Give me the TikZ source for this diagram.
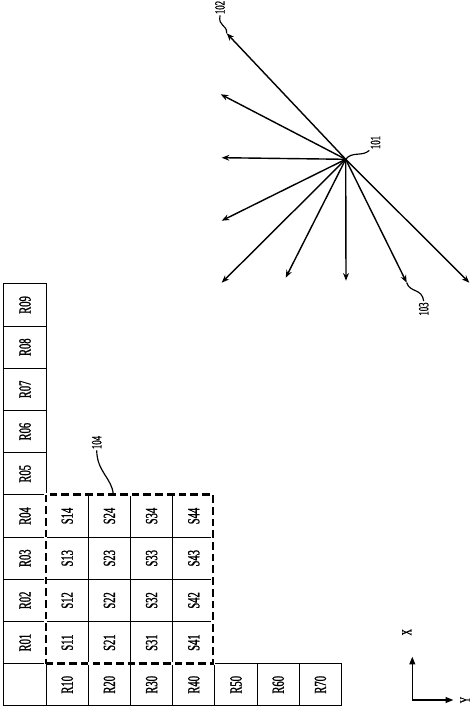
\documentclass[tikz,border=0pt]{standalone}
\usepackage{fontspec}
\usepackage{tikz}
\usetikzlibrary{arrows.meta}
\newfontfamily\figfont[FakeStretch=0.62, FakeBold=1.2]{Liberation Serif}

\begin{document}
\begin{tikzpicture}
  [x=0.03cm, y=-0.03cm, >={Stealth[length=6.5pt,width=5pt]},
   cell/.style={shape=rectangle, draw=black, line width=1pt, inner sep=0pt,
     minimum width=1.266cm, minimum height=1.266cm, rotate=90,
     font=\figfont\fontsize{14.5}{14.5}\selectfont},
   dashbox/.style={shape=rectangle, draw=black, dashed, line width=2pt,
     dash pattern=on 6.5pt off 3.5pt, inner sep=0pt,
     preaction={draw=white, solid, line width=2.8pt}},
   refnum/.style={rotate=90, inner sep=1pt, font=\figfont\fontsize{12}{12}\selectfont},
   ray/.style={->, line width=1.2pt},
   leader/.style={line width=1pt},
   axis/.style={-{Triangle[length=6.5pt,width=5pt]}, line width=0.9pt}]
  \useasboundingbox (0,0) rectangle (474,710);

  % first column of rows
  \node[cell] (R09) at (25, 305) {R09};
  \node[cell] (R08) at (25, 347.2) {R08};
  \node[cell] (R07) at (25, 389.4) {R07};
  \node[cell] (R06) at (25, 431.6) {R06};
  \node[cell] (R05) at (25, 473.8) {R05};
  \node[cell] (R04) at (25, 516) {R04};
  \node[cell] (R03) at (25, 558.2) {R03};
  \node[cell] (R02) at (25, 600.4) {R02};
  \node[cell] (R01) at (25, 642.6) {R01};
  \node[cell] (R00) at (25, 684.8) {};

  % bottom row
  \node[cell] (R10) at (67.2, 684.8) {R10};
  \node[cell] (R20) at (109.4, 684.8) {R20};
  \node[cell] (R30) at (151.6, 684.8) {R30};
  \node[cell] (R40) at (193.8, 684.8) {R40};
  \node[cell] (R50) at (236, 684.8) {R50};
  \node[cell] (R60) at (278.2, 684.8) {R60};
  \node[cell] (R70) at (320.4, 684.8) {R70};

  % sub-block
  \node[cell] (S14) at (67.2, 516) {S14};
  \node[cell] (S13) at (67.2, 558.2) {S13};
  \node[cell] (S12) at (67.2, 600.4) {S12};
  \node[cell] (S11) at (67.2, 642.6) {S11};
  \node[cell] (S24) at (109.4, 516) {S24};
  \node[cell] (S23) at (109.4, 558.2) {S23};
  \node[cell] (S22) at (109.4, 600.4) {S22};
  \node[cell] (S21) at (109.4, 642.6) {S21};
  \node[cell] (S34) at (151.6, 516) {S34};
  \node[cell] (S33) at (151.6, 558.2) {S33};
  \node[cell] (S32) at (151.6, 600.4) {S32};
  \node[cell] (S31) at (151.6, 642.6) {S31};
  \node[cell] (S44) at (193.8, 516) {S44};
  \node[cell] (S43) at (193.8, 558.2) {S43};
  \node[cell] (S42) at (193.8, 600.4) {S42};
  \node[cell] (S41) at (193.8, 642.6) {S41};

  \node[dashbox, minimum width=5.02cm, minimum height=5.07cm] (b104) at (129.4, 579) {};
  \coordinate (b104top) at (113.3, 494.5);

  % beams
  \coordinate (o101) at (345.7, 159.3);
  \coordinate (t1) at (226.7, 33.3);
  \coordinate (t2) at (220.7, 94.3);
  \coordinate (t3) at (221.7, 157.7);
  \coordinate (t4) at (221.7, 220.7);
  \coordinate (t5) at (221.7, 282.7);
  \coordinate (t6) at (285.7, 277.7);
  \coordinate (t7) at (346, 280.7);
  \coordinate (t8) at (406.7, 282.7);
  \coordinate (t9) at (469.3, 282.7);

  \path [ray] (o101) edge (t1);
  \path [ray] (o101) edge (t2);
  \path [ray] (o101) edge (t3);
  \path [ray] (o101) edge (t4);
  \path [ray] (o101) edge (t5);
  \path [ray] (o101) edge (t6);
  \path [ray] (o101) edge (t7);
  \path [ray] (o101) edge (t8);
  \path [ray] (o101) edge (t9);

  % reference numerals
  \node[refnum] (n101) at (375.5, 142.5) {101};
  \node[refnum] (n102) at (220, 7.5) {102};
  \node[refnum] (n103) at (423.7, 309) {103};
  \node[refnum] (n104) at (96.7, 442.5) {104};

  \draw[leader] (o101) .. controls (352, 151) and (362, 157) .. (n101.north west);
  \draw[leader] (n102.west) .. controls (218, 27) and (227, 24) .. (t1);
  \draw[leader] (t8) .. controls (410, 293) and (422, 288) .. (n103.east);
  \draw[leader] (n104.west) .. controls (97, 472) and (112, 478) .. (b104top);

  % axes
  \coordinate (ax0) at (412.3, 700);
  \coordinate (axXend) at (412.3, 656.7);
  \coordinate (axYend) at (453.3, 700);
  \node[refnum] (nX) at (406.7, 632.3) {X};
  \node[refnum] (nY) at (465, 700) {Y};
  \draw[axis] (ax0) -- (axXend);
  \draw[axis] (ax0) -- (axYend);
\end{tikzpicture}
\end{document}
